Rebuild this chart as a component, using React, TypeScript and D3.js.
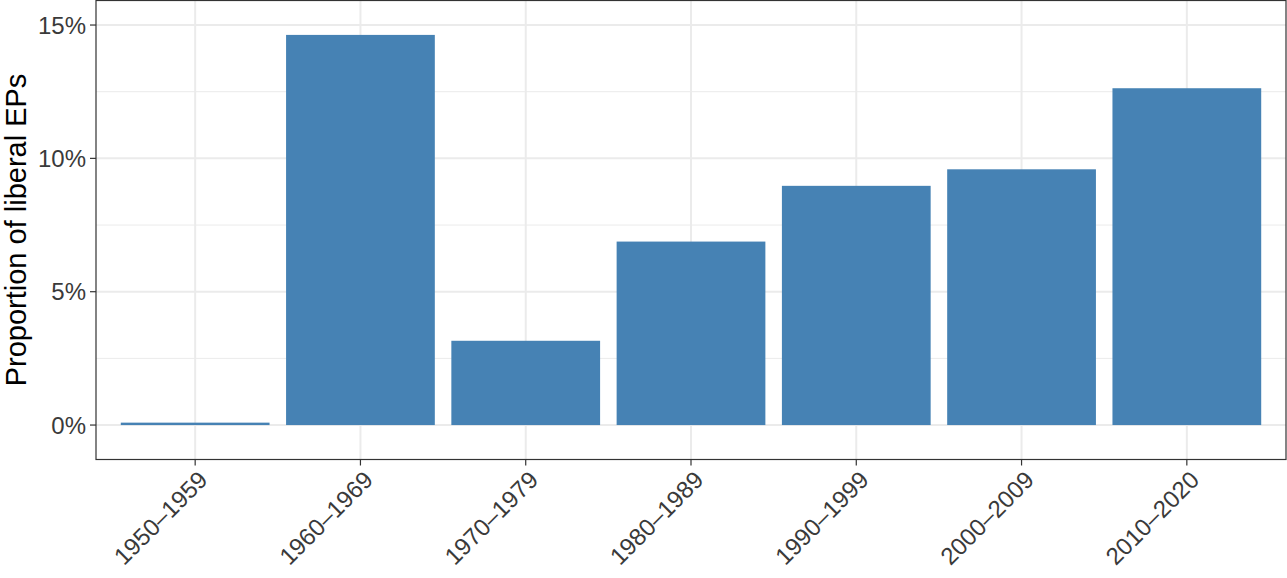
import React from "react";
import * as d3 from "d3";

const categories = ["1950–1959", "1960–1969", "1970–1979", "1980–1989", "1990–1999", "2000–2009", "2010–2020"];
const values = [0.09, 14.63, 3.16, 6.88, 8.97, 9.59, 12.63];
const yTicks = [0, 5, 10, 15];
const yMinor = [2.5, 7.5, 12.5];

const W = 1287;
const H = 578;
const panel = { left: 96, right: 1286, top: 0.5, bottom: 459.5 };

export default function App() {
  const x = d3
    .scaleBand<string>()
    .domain(categories)
    .range([panel.left, panel.right])
    .paddingInner(0.1)
    .paddingOuter(0.15);
  const y = d3.scaleLinear().domain([-1.292, 15.92]).range([panel.bottom, panel.top]);
  const cx = (c: string) => (x(c) as number) + x.bandwidth() / 2;
  const font = "'Liberation Sans', Arial, sans-serif";
  const textColor = "#3a3a3a";
  return (
    <svg width={W} height={H} style={{ position: "fixed", left: 0, top: 0, background: "#fff" }}>
      <rect x={0} y={0} width={W} height={H} fill="#fff" />
      {yMinor.map((t) => (
        <line key={"mn" + t} x1={panel.left} x2={panel.right} y1={y(t)} y2={y(t)} stroke="#EBEBEB" strokeWidth={1} />
      ))}
      {yTicks.map((t) => (
        <line key={"mj" + t} x1={panel.left} x2={panel.right} y1={y(t)} y2={y(t)} stroke="#EBEBEB" strokeWidth={2} />
      ))}
      {categories.map((c) => (
        <line key={"vg" + c} x1={cx(c)} x2={cx(c)} y1={panel.top} y2={panel.bottom} stroke="#EBEBEB" strokeWidth={2} />
      ))}
      {categories.map((c, i) => (
        <rect
          key={"b" + c}
          x={x(c)}
          width={x.bandwidth()}
          y={y(values[i])}
          height={y(0) - y(values[i])}
          fill="#4682B4"
        />
      ))}
      <rect
        x={panel.left}
        y={panel.top}
        width={panel.right - panel.left}
        height={panel.bottom - panel.top}
        fill="none"
        stroke="#333333"
        strokeWidth={1.2}
      />
      {yTicks.map((t) => (
        <g key={"yt" + t}>
          <line x1={panel.left - 6} x2={panel.left} y1={y(t)} y2={y(t)} stroke="#333333" strokeWidth={1.2} />
          <text
            x={panel.left - 10}
            y={y(t)}
            dy="0.36em"
            textAnchor="end"
            fontFamily={font}
            fontSize={24}
            fill={textColor}
          >
            {t + "%"}
          </text>
        </g>
      ))}
      {categories.map((c) => (
        <g key={"xt" + c}>
          <line x1={cx(c)} x2={cx(c)} y1={panel.bottom} y2={panel.bottom + 6} stroke="#333333" strokeWidth={1.2} />
          <text
            transform={`translate(${cx(c) + 2},${panel.bottom + 10}) rotate(-45)`}
            textAnchor="end"
            dy="0.7em"
            fontFamily={font}
            fontSize={24}
            fill={textColor}
          >
            {c}
          </text>
        </g>
      ))}
      <text
        transform={`translate(${16},${(panel.top + panel.bottom) / 2}) rotate(-90)`}
        textAnchor="middle"
        fontFamily={font}
        fontSize={29}
        fill="#000"
        dy="0.35em"
      >
        Proportion of liberal EPs
      </text>
    </svg>
  );
}
